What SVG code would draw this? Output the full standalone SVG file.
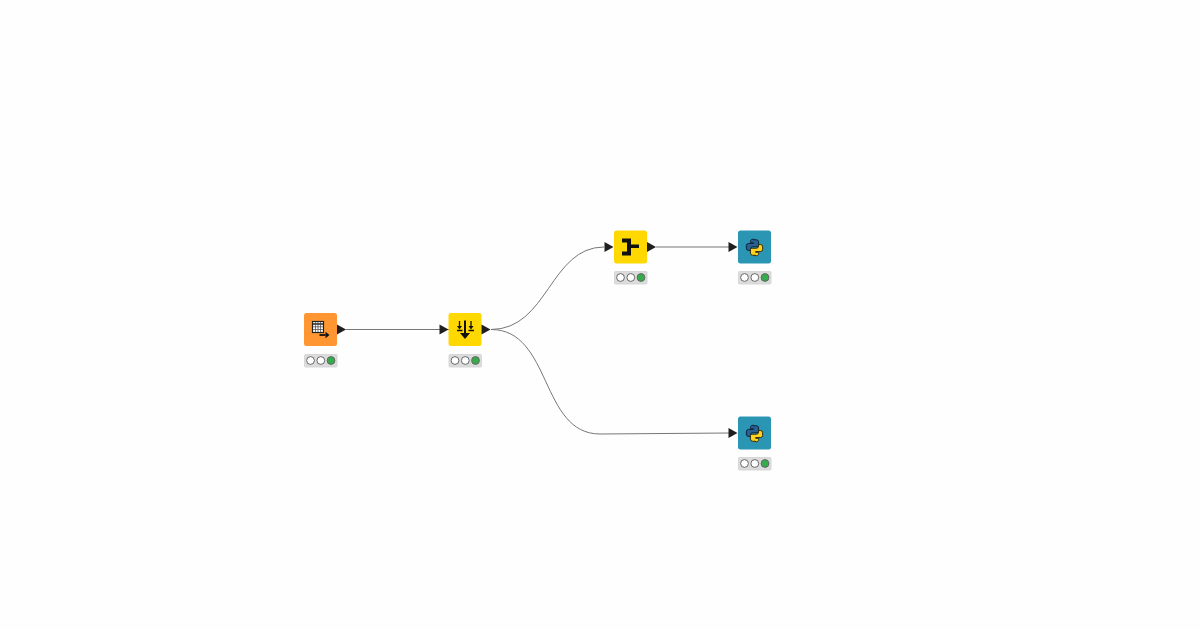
<svg xmlns="http://www.w3.org/2000/svg" width="1200" height="630" viewBox="0 0 1200 630">
<style>
.conn{fill:none;stroke:#777;stroke-width:1}
.port{fill:#1f1f1f}
.tl{fill:#dcdcdc;stroke:#d0d0d0;stroke-width:.8}
.off{fill:#fff;stroke:#666;stroke-width:1}
.on{fill:#35ab4a;stroke:#666;stroke-width:1}
.ico{fill:#111}
.pb{fill:#2a5f92;stroke:#0e2238;stroke-width:1.300}
.py{fill:#ffd21f;stroke:#33290a;stroke-width:1.300}
</style>
<defs>
<g id="lights">
<rect class="tl" x="0.5" y="0.5" width="32.500" height="12.500" rx="1"/>
<circle class="off" cx="6.500" cy="6.500" r="3.900"/>
<circle class="off" cx="16.800" cy="6.500" r="3.900"/>
<circle class="on" cx="27" cy="6.500" r="3.900"/>
</g>
<polygon id="port" class="port" points="0,-5 9,0 0,5"/>
<g id="python" transform="scale(.74)">
<path class="pb" d="M-1,-10.500h3.500a3,3 0 0 1 3,3v4.500a2,2 0 0 1 -2,2h-6a3,3 0 0 0 -3,3v2h-2.500a3,3 0 0 1 -3,-3v-3.500a3,3 0 0 1 3,-3h6.500v-1h-4v-1.500a3,3 0 0 1 5,-2.500z"/>
<path class="py" d="M1,10.500h-3.500a3,3 0 0 1 -3,-3v-4.500a2,2 0 0 1 2,-2h6a3,3 0 0 0 3,-3v-2h2.500a3,3 0 0 1 3,3v3.500a3,3 0 0 1 -3,3h-6.500v1h4v1.500a3,3 0 0 1 -5,2.500z"/>
</g>
</defs>
<rect width="1200" height="630" fill="#fefefe"/>
<g id="connectors">
<path class="conn" d="M346,329.500H449"/>
<path class="conn" d="M491,329.500C548,329.500 550,247 604,247"/>
<path class="conn" d="M491,329.500C552,329.500 540,434 600,434L729,433"/>
<path class="conn" d="M656,247H729"/>
</g>
<g id="node-table-creator">
<rect x="304" y="313" width="33" height="33" rx="2.500" fill="#ff9632"/>
<rect x="312.500" y="321.500" width="11" height="11" fill="#fff" stroke="#222" stroke-width="1.200"/>
<path d="M313,324h10" stroke="#222" stroke-width="1.500" fill="none"/>
<path d="M313,326.800h10M313,329.500h10M315.500,322v10M318,322v10M320.500,322v10" stroke="#444" stroke-width=".7" fill="none"/>
<path d="M319.500,335h6" stroke="#111" stroke-width="1.800"/>
<polygon class="ico" points="325.500,331.800 329.500,335 325.500,338.200"/>
<use href="#port" x="337" y="329.500"/>
<use href="#lights" x="304" y="354"/>
</g>
<g id="node-column-filter">
<rect x="448.500" y="313" width="33" height="33" rx="2.500" fill="#ffd800"/>
<path d="M465,320.500v14" stroke="#111" stroke-width="2"/>
<polygon class="ico" points="460,333 470,333 465,339"/>
<path d="M459.500,321v6M471,321v6M457,330.500h5.500M468.500,330.500h5.500" stroke="#111" stroke-width="1.300"/>
<polygon class="ico" points="457,326 462,326 459.500,329.500"/>
<polygon class="ico" points="468.500,326 473.500,326 471,329.500"/>
<use href="#port" x="481.500" y="329.500"/>
<use href="#port" x="439.500" y="329.500"/>
<use href="#lights" x="448.500" y="354"/>
</g>
<g id="node-joiner">
<rect x="614" y="230.500" width="33" height="33" rx="2.500" fill="#ffd800"/>
<path class="ico" d="M622,238.500h9v6h8v3.500h-8v7.500h-9v-4h5v-9h-5z"/>
<use href="#port" x="604.500" y="247"/>
<use href="#port" x="647" y="247"/>
<use href="#lights" x="614" y="271"/>
</g>
<g id="node-python-1">
<rect x="738" y="230.500" width="33" height="33" rx="2.500" fill="#2a96b4"/>
<use href="#python" x="754.500" y="247.500"/>
<use href="#port" x="728.500" y="247"/>
<use href="#lights" x="738" y="271"/>
</g>
<g id="node-python-2">
<rect x="738" y="416.500" width="33" height="33" rx="2.500" fill="#2a96b4"/>
<use href="#python" x="754.500" y="433.500"/>
<use href="#port" x="728.500" y="433"/>
<use href="#lights" x="738" y="457"/>
</g>
</svg>
